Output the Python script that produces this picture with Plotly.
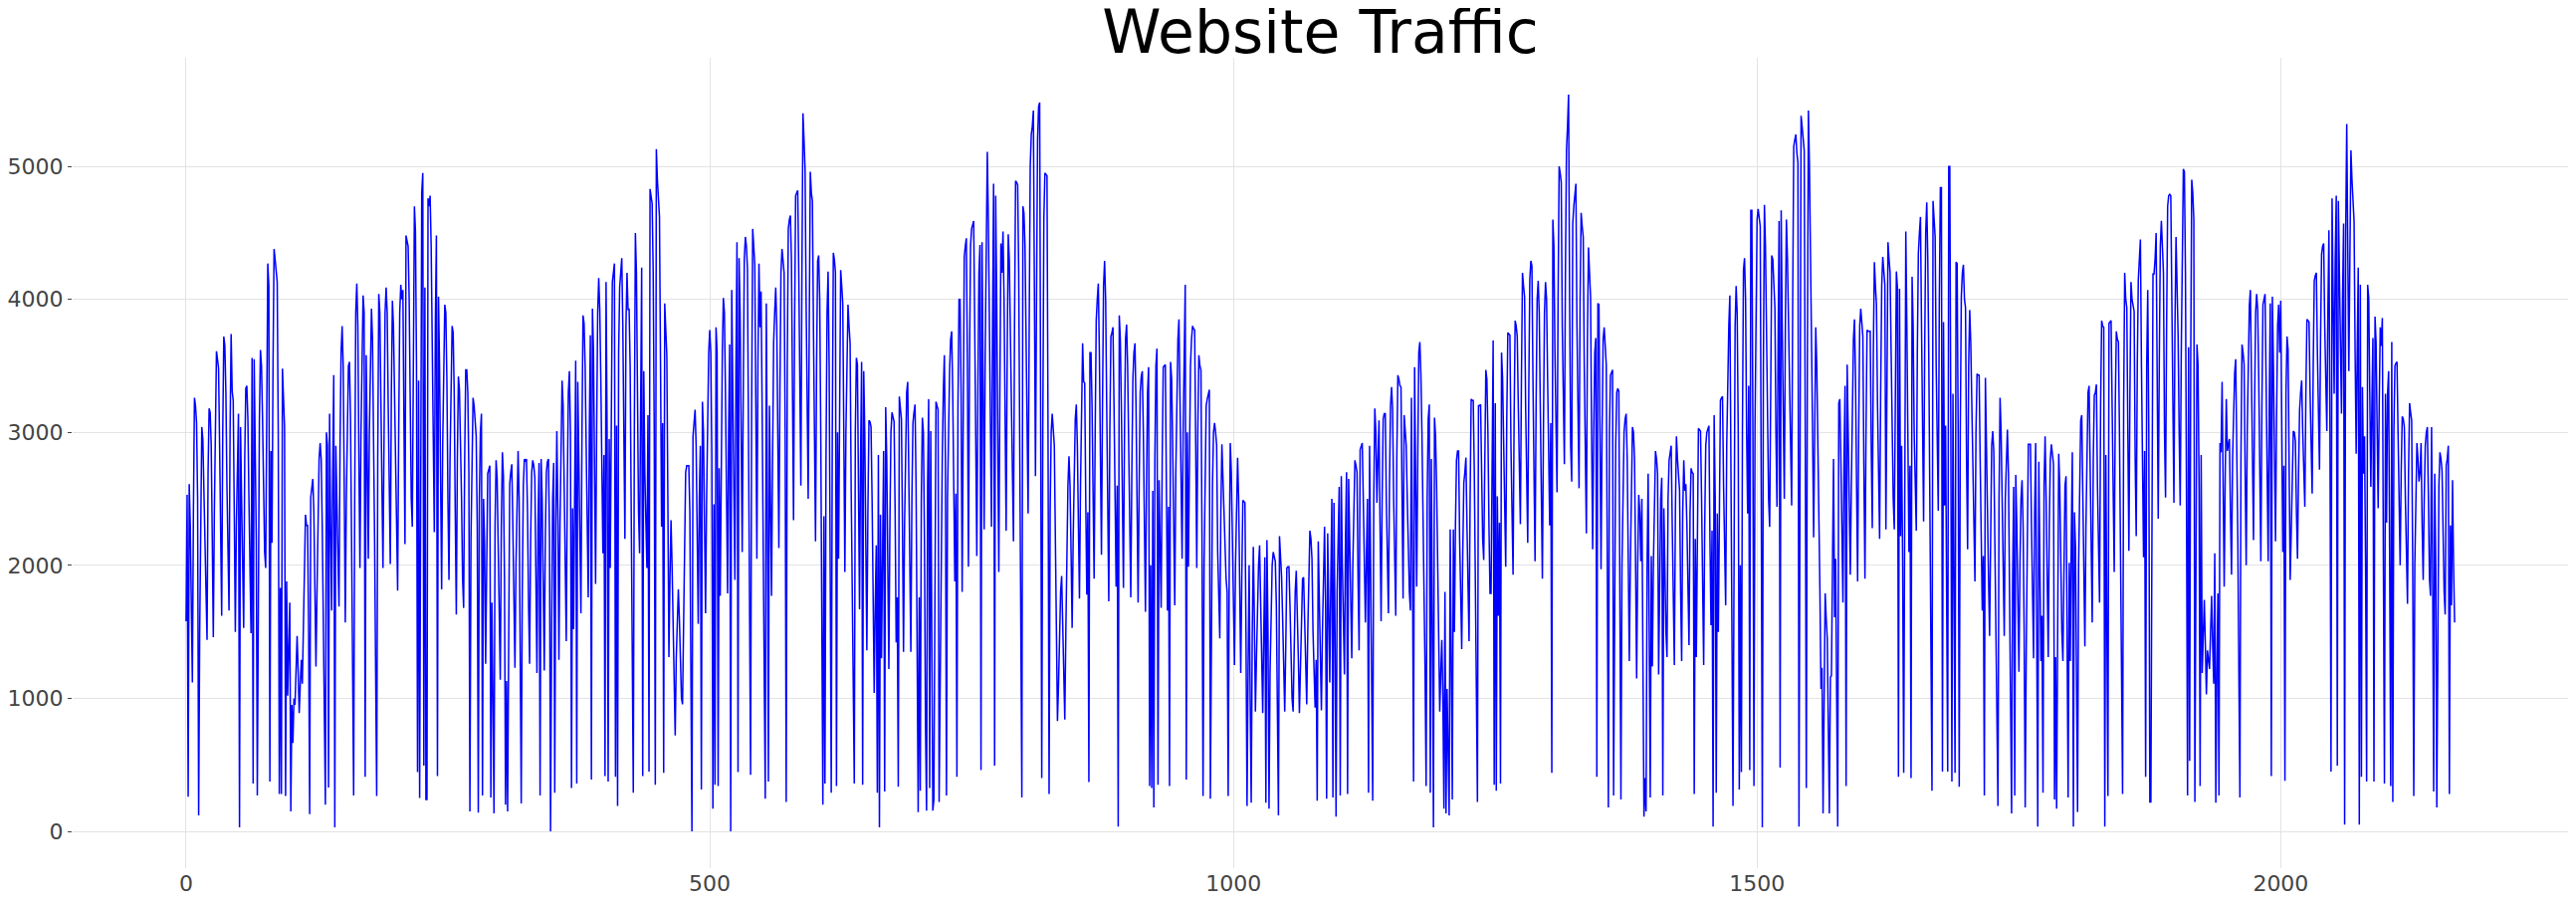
import plotly.graph_objects as go

# daily visits (index 0 .. 2166)
visits = [
    1580, 2530, 260, 2610, 2300, 1750, 1120, 2400, 3260, 3200,  # 0
    3070, 2500, 120, 1500, 2400, 3040, 2950, 2600, 2100, 1700,
    1440, 2700, 3180, 3150, 2900, 2200, 1460, 2400, 3300, 3610,
    3550, 3480, 2900, 2100, 1620, 3000, 3720, 3650, 3300, 2600,
    1900, 1660, 3000, 3740, 3310, 3240, 2400, 1500, 2300, 2900,
    3140, 30, 3040, 2500, 1900, 1530, 2800, 3330, 3350, 3100,  # 50
    2500, 1800, 1490, 3560, 360, 3550, 3000, 2200, 270, 1900,
    3100, 3620, 3500, 3100, 2500, 2100, 1980, 3200, 4270, 4100,
    375, 2860, 2170, 3500, 4380, 4300, 4200, 4130, 3000, 280,
    1830, 280, 3480, 3300, 3040, 265, 1880, 1020, 1400, 1720,
    150, 950, 665, 1000, 950, 1200, 1470, 1200, 890, 1100,  # 100
    1290, 1110, 1600, 2100, 2380, 2300, 2300, 1500, 130, 2510,
    2600, 2650, 2400, 1800, 1240, 1800, 2400, 2800, 2920, 2800,
    2300, 1600, 1000, 200, 3000, 2900, 330, 3140, 2300, 1660,
    2700, 3430, 30, 2900, 2470, 2100, 1690, 2900, 3600, 3800,
    3500, 2600, 1570, 2500, 3200, 3500, 3530, 3100, 2200, 1300,  # 150
    270, 2500, 3900, 4120, 3800, 2800, 1980, 3000, 3800, 4030,
    3900, 410, 3580, 2700, 2050, 3000, 3700, 3930, 3700, 3100,
    2200, 1200, 265, 2800, 4040, 3900, 3400, 2600, 1980, 3100,
    3900, 4090, 3900, 3200, 2400, 2010, 3300, 3990, 3800, 3300,
    2600, 2100, 1810, 3000, 3900, 4110, 4000, 4070, 3100, 2160,  # 200
    4480, 4450, 4400, 4000, 3200, 2500, 2290, 3800, 4700, 4510,
    3500, 445, 3390, 250, 3000, 4800, 4950, 495, 4090, 240,
    240, 4760, 4700, 4780, 4400, 3600, 2800, 2250, 3800, 4480,
    415, 4020, 3500, 2500, 1820, 2900, 3700, 3960, 3900, 3400,
    2500, 1890, 2800, 3500, 3800, 3750, 3300, 2400, 1630, 2800,  # 250
    3420, 3320, 3000, 2500, 1900, 1680, 2800, 3470, 3470, 3300,
    2700, 150, 2200, 3000, 3260, 3200, 3100, 2970, 2300, 140,
    2500, 3000, 3140, 270, 2500, 2160, 1260, 2300, 2690, 2720,
    2750, 255, 1720, 1000, 135, 2300, 2790, 2650, 2200, 1600,
    1140, 2300, 2850, 2670, 1900, 200, 1130, 150, 1800, 2610,  # 300
    2700, 2760, 2300, 1600, 1230, 2000, 2600, 2860, 2500, 1600,
    210, 1800, 2600, 2800, 2780, 2800, 2400, 1700, 1260, 2200,
    2700, 2790, 2750, 2660, 2000, 1190, 2300, 2770, 270, 2800,
    2500, 1800, 1210, 2200, 2700, 2780, 2800, 2200, 0, 1500,
    2500, 2770, 290, 2300, 3010, 2400, 1290, 2300, 3100, 3390,  # 350
    3200, 2600, 1900, 1430, 2600, 3300, 3460, 3000, 325, 2430,
    1520, 2800, 3540, 360, 3380, 2800, 2000, 1640, 3000, 3880,
    3820, 3500, 2900, 2200, 1760, 3000, 3730, 390, 3930, 3600,
    2600, 1860, 3000, 3900, 4160, 3920, 3400, 2600, 2090, 2830,
    415, 4130, 3000, 375, 2950, 1980, 3400, 4130, 4200, 4270,  # 400
    410, 3050, 190, 3600, 4090, 4250, 4310, 3800, 2900, 2200,
    3800, 4200, 3920, 3930, 3500, 2600, 1500, 290, 3000, 4500,
    4200, 3200, 2400, 2090, 3500, 4240, 415, 3460, 2700, 2200,
    1980, 3130, 450, 4830, 4750, 4720, 4200, 3000, 350, 5130,
    4900, 4700, 4620, 3500, 2290, 3070, 440, 3970, 3800, 3580,  # 450
    2500, 1310, 1900, 2340, 2000, 1500, 1000, 720, 1300, 1700,
    1820, 1600, 1200, 1000, 955, 1600, 2300, 2700, 2750, 2750,
    2750, 2400, 1500, 0, 2970, 3100, 3170, 2900, 2200, 1560,
    2500, 2900, 315, 3230, 3000, 2300, 1640, 2500, 3200, 3600,
    3770, 3600, 2800, 170, 2460, 350, 3790, 3600, 340, 2730,  # 500
    1770, 2800, 3600, 4010, 3900, 3300, 2500, 1790, 3000, 3660,
    0, 4070, 3300, 2400, 1890, 3500, 4430, 445, 4310, 3900,
    3000, 2100, 3300, 4300, 4470, 4400, 4230, 3200, 2080, 425,
    3200, 4530, 4400, 4260, 3200, 2050, 3500, 4270, 3790, 4060,
    3200, 1880, 1200, 245, 3970, 2500, 375, 3200, 2400, 1770,  # 550
    2800, 3680, 3900, 4090, 3800, 3000, 2130, 3300, 4200, 4380,
    4300, 4200, 3000, 220, 3500, 4530, 4600, 4630, 4300, 3400,
    2340, 3800, 4780, 4800, 4820, 4200, 3200, 2600, 4200, 5400,
    5200, 4980, 4000, 3000, 2500, 3800, 4960, 4800, 4740, 3800,
    2800, 2180, 3500, 4290, 4330, 4000, 3000, 1500, 200, 2370,  # 600
    360, 2800, 3900, 4210, 3500, 2000, 290, 3000, 4350, 4300,
    4200, 340, 3000, 2050, 3500, 4220, 4100, 3970, 3000, 1950,
    3000, 3700, 3960, 3800, 3670, 2600, 1680, 1000, 360, 3000,
    3560, 3510, 2500, 1670, 2800, 3530, 350, 3460, 3000, 2200,
    1360, 2400, 3090, 3080, 3040, 2500, 1700, 1040, 1700, 2150,  # 650
    290, 2830, 30, 2380, 1300, 2200, 2860, 300, 3190, 2800,
    2000, 1220, 2300, 3000, 3150, 3100, 3080, 2400, 1420, 1760,
    335, 3270, 3200, 3100, 2300, 1350, 2300, 3000, 3300, 3380,
    2800, 2000, 1350, 2500, 3070, 3150, 3210, 2600, 1500, 145,
    1760, 305, 2500, 3110, 3000, 2200, 800, 155, 2600, 3250,  # 700
    325, 3010, 1500, 155, 240, 2500, 3230, 3200, 3170, 220,
    1300, 2000, 2800, 3300, 3580, 2800, 270, 2500, 3200, 3460,
    3700, 3760, 3300, 2500, 1880, 2540, 410, 3200, 4000, 4000,
    3300, 1800, 3300, 4320, 4400, 4460, 3500, 1990, 3500, 4400,
    4530, 4560, 4590, 3800, 2800, 2070, 3300, 4200, 4410, 460,  # 750
    4430, 3500, 2270, 3600, 4700, 5110, 4600, 3600, 2700, 2290,
    3800, 4870, 495, 4780, 4000, 2800, 1950, 3300, 4420, 4200,
    4510, 4000, 3000, 2260, 3600, 4490, 4300, 3800, 3000, 2500,
    2180, 3800, 4890, 4880, 4860, 4200, 3000, 1500, 255, 4700,
    4650, 4400, 3800, 3000, 2390, 3800, 5000, 5240, 5300, 5420,  # 800
    4000, 2670, 4000, 5200, 5450, 5480, 3000, 400, 3000, 4600,
    4950, 4940, 4930, 3000, 280, 2400, 3000, 3140, 3000, 2900,
    2200, 1400, 830, 1100, 1500, 1800, 1920, 1600, 1100, 840,
    1500, 2200, 2600, 2820, 2600, 2100, 1530, 2200, 2800, 3100,
    3210, 2900, 2300, 1750, 2600, 3300, 3670, 3380, 3370, 2500,  # 850
    1780, 2400, 370, 3600, 3600, 3200, 2500, 1900, 3000, 3840,
    4000, 4120, 3600, 2700, 2080, 3200, 4100, 4290, 4000, 3200,
    2300, 1730, 3000, 3720, 3750, 3790, 3200, 2400, 1840, 2600,
    35, 3880, 3700, 3200, 2400, 1830, 3000, 3700, 3810, 3500,
    2900, 2200, 1760, 2700, 3400, 3600, 3670, 3200, 2400, 1720,  # 900
    2600, 3300, 3420, 3460, 3000, 2200, 1650, 2600, 3300, 3490,
    340, 2000, 325, 2560, 180, 2800, 3500, 3630, 350, 2640,
    2000, 1680, 2800, 3490, 3500, 3510, 2600, 1660, 2440, 340,
    3530, 3400, 2900, 2200, 1700, 2700, 3400, 3700, 3850, 3300,
    2500, 2050, 3000, 3800, 4110, 390, 3000, 1990, 3000, 3500,  # 950
    3700, 3800, 3780, 3770, 2900, 1980, 3000, 3580, 3500, 3470,
    2200, 265, 2000, 2800, 3200, 3250, 3300, 3320, 245, 2000,
    2600, 3000, 3070, 3000, 2900, 2100, 1600, 1450, 2400, 2910,
    2660, 2400, 2100, 1900, 1800, 265, 2000, 2920, 2700, 2200,
    1600, 1250, 2000, 2600, 2810, 2500, 1800, 1190, 1900, 2490,  # 1000
    2480, 2470, 1500, 190, 1200, 2000, 1000, 215, 1500, 2140,
    1600, 900, 1300, 1720, 2000, 2150, 1700, 1200, 890, 1500,
    2060, 215, 2190, 1500, 170, 1200, 1700, 2000, 2100, 2060,
    2030, 1700, 1000, 120, 2220, 2100, 1910, 1600, 1200, 900,
    1400, 1980, 1990, 1990, 1700, 1300, 1000, 900, 1400, 1800,  # 1050
    1960, 1700, 1300, 890, 1300, 1700, 1900, 1910, 1500, 1100,
    955, 1500, 2000, 2260, 2200, 2050, 1500, 1100, 930, 1290,
    230, 2180, 1800, 1300, 910, 1500, 2000, 2290, 1700, 245,
    2240, 1700, 1120, 1900, 2500, 255, 2470, 1500, 110, 1800,
    2400, 2590, 270, 2670, 2000, 1500, 1180, 2200, 2700, 280,  # 1100
    2650, 2200, 1600, 1300, 2000, 2600, 2790, 2750, 2700, 1900,
    1360, 2870, 2900, 2920, 2500, 2000, 1570, 2070, 2500, 290,
    2900, 2000, 1000, 230, 2500, 3180, 3000, 2470, 2800, 3090,
    2300, 1580, 2500, 3100, 3140, 3140, 2500, 1900, 1640, 2600,
    3200, 3340, 3170, 2500, 1900, 1620, 2800, 3430, 3400, 3350,  # 1150
    3340, 2500, 1750, 3130, 3000, 2900, 2500, 2000, 1800, 1660,
    3260, 2000, 375, 3490, 2800, 1840, 2800, 3600, 3680, 3440,
    3000, 2400, 1960, 1200, 340, 2500, 3100, 3210, 290, 2800,
    1500, 30, 3110, 2970, 2600, 2000, 1400, 900, 1200, 1440,
    1000, 170, 1800, 135, 1070, 600, 120, 2270, 1200, 240,  # 1200
    2270, 1500, 2300, 2790, 2860, 2860, 2200, 1600, 1370, 2100,
    2620, 2700, 2810, 2300, 1700, 1430, 2500, 3250, 3240, 3240,
    2700, 1800, 600, 220, 3200, 3200, 3210, 2700, 2200, 2040,
    3000, 3470, 3400, 3000, 2300, 1790, 1790, 3000, 3690, 350,
    3220, 305, 2520, 1620, 2320, 360, 3600, 3410, 2900, 2300,  # 1250
    1990, 3100, 3750, 3740, 3730, 2900, 2200, 1930, 3100, 3840,
    3800, 3720, 3200, 2600, 2310, 3400, 4200, 4100, 4020, 3200,
    2500, 2170, 3300, 4150, 4290, 4250, 3400, 2500, 2030, 3200,
    4000, 4140, 3900, 3200, 2400, 1900, 3000, 3900, 4130, 4000,
    3400, 2700, 2300, 3070, 440, 4600, 4400, 3600, 2900, 2550,  # 1300
    4000, 5000, 4950, 4880, 3800, 3000, 2760, 4200, 5120, 5300,
    5540, 4000, 2900, 2630, 4570, 4700, 4800, 4870, 3800, 3000,
    2580, 4000, 4650, 4550, 4470, 3500, 2700, 2240, 3700, 4390,
    4200, 4020, 3000, 2120, 3000, 3600, 3710, 410, 3970, 3960,
    3000, 1970, 3000, 3700, 3790, 3650, 3510, 2000, 180, 3000,  # 1350
    3430, 3450, 3470, 270, 2000, 2900, 3300, 3330, 3310, 2000,
    240, 2000, 2600, 3000, 3100, 3140, 2800, 2100, 1280, 2000,
    2700, 3040, 3000, 2800, 2000, 1150, 2000, 2530, 2400, 2030,
    2500, 1500, 110, 400, 150, 2000, 2690, 1500, 255, 2070,
    1240, 2000, 2600, 2860, 2800, 2690, 1180, 2000, 2500, 2660,  # 1400
    270, 2430, 1900, 1500, 1310, 2500, 2790, 2850, 2900, 2300,
    1600, 1250, 2400, 2970, 2800, 2700, 2560, 1800, 1280, 2400,
    2790, 2560, 2610, 2300, 1800, 1400, 2400, 2730, 2700, 2690,
    280, 2200, 1310, 2500, 3030, 3020, 3010, 2500, 1800, 1250,
    2300, 2900, 3000, 3020, 3050, 2200, 1550, 2260, 35, 3130,  # 1450
    2500, 290, 2390, 1500, 2500, 3240, 3260, 3270, 2600, 2000,
    1700, 2900, 3510, 3800, 4030, 3000, 1500, 190, 2870, 3800,
    4100, 3890, 3000, 315, 2000, 445, 3000, 4220, 4310, 4000,
    3000, 2390, 3350, 460, 4670, 4670, 3000, 340, 3050, 4000,
    4600, 4680, 4600, 4550, 2500, 30, 3500, 4710, 4400, 3700,  # 1500
    3000, 2500, 2290, 3800, 4330, 4300, 4100, 3940, 3000, 2440,
    3600, 4590, 480, 4670, 3800, 3000, 2500, 3800, 4600, 4300,
    3850, 3200, 2700, 2450, 4000, 5150, 5200, 5240, 5100, 5030,
    35, 4000, 5380, 5300, 5200, 5120, 3000, 325, 3500, 5420,
    5000, 4400, 3920, 3000, 2210, 3200, 3790, 3500, 3000, 2560,  # 1550
    1800, 1070, 1230, 135, 1200, 1790, 1600, 1450, 800, 135,
    1160, 1170, 2000, 2800, 1610, 2050, 1000, 35, 3220, 3250,
    2800, 2200, 1720, 2800, 3350, 340, 3510, 3000, 2400, 1930,
    2600, 3300, 3700, 3850, 3400, 2600, 1880, 3000, 3800, 3930,
    3800, 3720, 2700, 1900, 3000, 3770, 3760, 3760, 3760, 2900,  # 1600
    2280, 3600, 4280, 4100, 3960, 3200, 2600, 2200, 3300, 4100,
    4320, 4160, 4110, 2270, 3400, 4430, 4300, 4200, 3600, 2900,
    2500, 2270, 3500, 4210, 4090, 410, 4080, 2220, 2900, 2000,
    440, 3500, 4510, 3800, 2800, 2100, 2750, 400, 4170, 3800,
    3000, 2500, 2260, 3600, 4350, 4500, 4620, 3800, 2900, 2330,  # 1650
    3600, 4500, 4730, 4300, 3500, 2500, 1500, 305, 4740, 4600,
    4470, 3500, 2800, 2410, 4000, 4840, 4840, 450, 3830, 2450,
    3050, 2000, 450, 5000, 5000, 3000, 375, 3290, 2000, 440,
    4280, 4270, 3000, 335, 3000, 4020, 4200, 4260, 4000, 3940,
    2800, 2120, 3500, 3920, 3680, 3200, 2500, 2100, 1880, 3000,  # 1700
    3440, 3430, 3430, 2800, 2200, 1660, 2070, 270, 3410, 3000,
    2400, 1900, 1470, 2400, 2900, 3010, 2860, 2200, 1430, 1200,
    190, 2500, 3260, 3000, 2400, 1800, 1470, 2500, 2900, 3020,
    2700, 2000, 1200, 135, 1900, 2590, 270, 2680, 2300, 1600,
    1200, 2000, 2500, 2640, 2300, 1500, 180, 1360, 2500, 2910,  # 1750
    2910, 2910, 2300, 1700, 1300, 2400, 2920, 1500, 35, 2780,
    2000, 1280, 1620, 290, 2600, 2970, 2500, 1800, 1310, 2300,
    2800, 2910, 2830, 2760, 240, 1310, 170, 2000, 2840, 2600,
    2000, 1500, 1280, 2200, 2600, 2670, 1500, 255, 2020, 1280,
    2200, 2850, 35, 2400, 2140, 1200, 145, 2000, 2800, 3090,  # 1800
    3130, 2400, 1700, 1390, 2300, 3000, 3300, 3350, 2600, 1900,
    1570, 2800, 3280, 3300, 3360, 2600, 2000, 1720, 3200, 3840,
    3800, 3790, 35, 2830, 1500, 265, 3820, 3830, 3840, 3200,
    2500, 1950, 3200, 3760, 3700, 3680, 3000, 2000, 1000, 280,
    3200, 4200, 4000, 3940, 3000, 2110, 3300, 4130, 4000, 3950,  # 1850
    3910, 2800, 2220, 3500, 4150, 4300, 4450, 3500, 2600, 2060,
    2860, 410, 3500, 4070, 3000, 220, 220, 3000, 4190, 4190,
    4300, 4500, 3500, 2350, 3500, 4400, 4590, 4400, 4200, 3000,
    2510, 3800, 4700, 4780, 4790, 4780, 3800, 3000, 2470, 3800,
    4470, 4100, 3720, 3000, 2450, 3600, 4600, 4980, 4960, 4200,  # 1900
    2500, 270, 3640, 530, 3500, 4900, 4800, 4600, 220, 2500,
    3660, 3510, 2600, 340, 2830, 1190, 1400, 1740, 1400, 1030,
    1360, 1300, 1220, 1500, 1770, 1400, 1110, 2090, 215, 1200,
    1790, 270, 2920, 2850, 3380, 2600, 1840, 2700, 3250, 2860,
    2900, 2950, 2400, 1930, 2800, 3300, 3450, 3550, 3000, 2200,  # 1950
    1200, 255, 2800, 3660, 3600, 3510, 2700, 2000, 3000, 3700,
    3950, 4070, 3500, 2700, 2190, 3200, 3900, 4040, 3920, 3400,
    2600, 2030, 3200, 3960, 4000, 4040, 3400, 2500, 2030, 3200,
    3970, 415, 4020, 3500, 2700, 2180, 3100, 3800, 3960, 3600,
    3990, 3000, 2100, 2750, 380, 3300, 3720, 3620, 2800, 1890,  # 2000
    2250, 2700, 3010, 3000, 2930, 2400, 2050, 2700, 3170, 3300,
    3390, 3000, 2700, 2440, 3300, 3850, 3840, 3830, 3300, 2800,
    2540, 3500, 4140, 4180, 4200, 3600, 3000, 2720, 3700, 4340,
    4400, 4420, 3800, 3300, 3010, 3900, 4520, 3000, 450, 4760,
    4000, 3290, 4300, 4780, 495, 4740, 4200, 3500, 3140, 4000,  # 2050
    4570, 50, 4500, 5320, 4300, 3460, 4300, 5120, 4900, 4700,
    4590, 3600, 2840, 3600, 4240, 50, 4110, 410, 3340, 2690,
    2970, 2000, 375, 4110, 4010, 3300, 2590, 3200, 3710, 375,
    3870, 3680, 3000, 2430, 3200, 3790, 3650, 3860, 2000, 360,
    3290, 2320, 3290, 3460, 2000, 340, 3680, 220, 3000, 3500,  # 2100
    3520, 3530, 3000, 2400, 2000, 2700, 3120, 3100, 3040, 2500,
    2000, 1710, 2700, 3220, 3150, 3090, 2000, 265, 2000, 2600,
    2920, 2800, 2630, 2700, 2920, 2300, 1890, 2500, 2900, 3000,
    3040, 2500, 1900, 1770, 3040, 2000, 300, 2690, 2000, 180,
    2000, 2600, 2850, 2800, 2710, 2200, 1800, 1630, 2750, 2800,  # 2150
    2900, 280, 2300, 1700, 2640, 2000, 1570,
]

days = list(range(len(visits)))

fig = go.Figure()
fig.add_trace(go.Scatter(x=days, y=visits, mode='lines',
                         line=dict(color='blue', width=1.5)))

# 5% padding around the data, like the original
x_pad = (len(visits) - 1) * 0.05
y_pad = max(visits) * 0.05

# the page body adds 8px around the figure
fig.update_layout(
    width=2572, height=892,
    margin=dict(l=64, r=0, t=50, b=26),
    title=dict(text='Website Traffic', x=0.5, xref='paper', xanchor='center',
               y=0.973, yanchor='middle',
               font=dict(family='DejaVu Sans', size=60, color='black')),
    font=dict(family='DejaVu Sans', size=22, color='#444'),
    plot_bgcolor='white', paper_bgcolor='white',
    showlegend=False,
)
fig.update_xaxes(range=[-x_pad, len(visits) - 1 + x_pad], dtick=500,
                 showgrid=True, gridcolor='#e3e3e3', zeroline=False,
                 showline=False, ticks='')
fig.update_yaxes(range=[-y_pad, max(visits) + y_pad], dtick=1000,
                 showgrid=True, gridcolor='#e3e3e3', zeroline=False,
                 showline=False, ticks='outside', ticklen=4, tickcolor='#444')

fig.write_html("out.html")
